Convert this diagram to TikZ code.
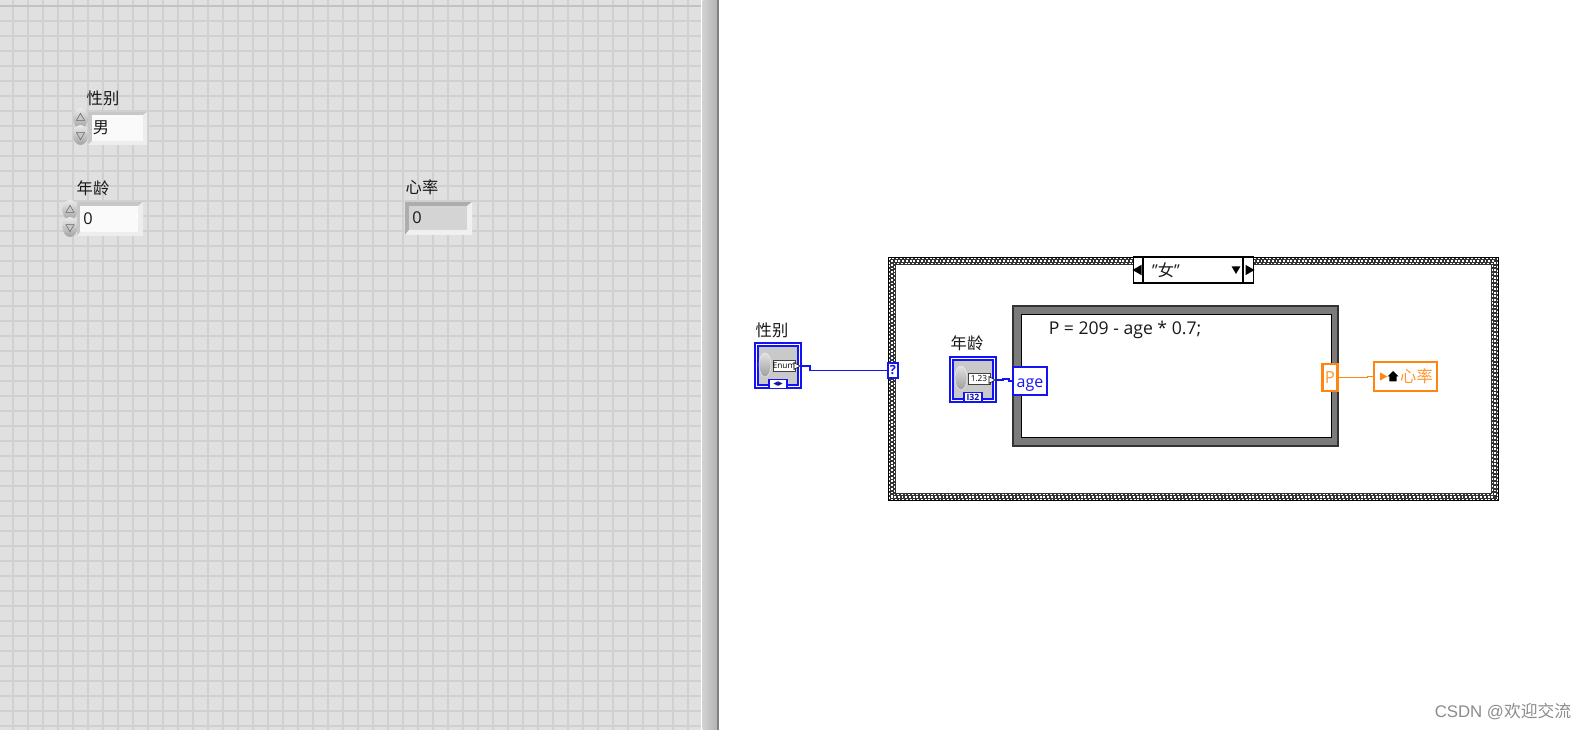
\documentclass[tikz,border=0pt]{standalone}
\usepackage{fontspec}
\usepackage{tikz}
\usetikzlibrary{arrows.meta, positioning, shapes.geometric}
\setmainfont{Open Sans}
\newfontfamily\cjk{Noto Sans CJK SC}
\newfontfamily\wmfont{Liberation Sans}
\newfontfamily\symfont{DejaVu Sans}
\definecolor{panelgray}{HTML}{E0E0E0}
\definecolor{gridgray}{HTML}{D0D0D0}
\definecolor{termblue}{HTML}{1414F0}
\definecolor{termgray}{HTML}{C9C9C9}
\definecolor{wireorange}{HTML}{FF8410}
\definecolor{framegray}{HTML}{7B7B7B}
\tikzset{
	px/.style 2 args={minimum width=#1*0.75pt, minimum height=#2*0.75pt},
	plain/.style={inner sep=0pt, outer sep=0pt},
	labeltext/.style={plain, font=\cjk\fontsize{12.2}{14}\selectfont, text=black!90},
	bevelbox/.style={plain, fill=black!22},
	valuebox/.style={plain, fill=white!98!black},
	spinbtn/.style={plain, ellipse, top color=black!8, bottom color=black!36, px={15}{20}},
	spintri/.style={plain, regular polygon, regular polygon sides=3, draw=black!60, fill=black!22, line width=0.4pt, minimum size=7pt},
	termouter/.style={plain, draw=termblue, line width=1.9pt, fill=white, px={46}{45}},
	terminner/.style={plain, draw=termblue, line width=0.8pt, fill=termgray, px={40}{39}},
	termspin/.style={plain, ellipse, top color=black!12, bottom color=black!38, draw=black!8, line width=0.4pt, px={12}{24}},
	termvalue/.style={plain, fill=white, draw=black!75, line width=0.4pt, font=\fontsize{6.2}{7}\selectfont},
	termtag/.style={plain, fill=white, draw=termblue, line width=0.8pt, text=termblue!70!black, font=\bfseries\fontsize{6.5}{7}\selectfont, px={18}{9}},
	outtri/.style={plain, regular polygon, regular polygon sides=3, shape border rotate=-90, fill=white, draw=black, line width=0.4pt, minimum size=6pt},
	wire/.style={draw=termblue, line width=0.8pt},
	orangewire/.style={draw=wireorange, line width=0.9pt},
	selarrow/.style={plain, regular polygon, regular polygon sides=3, fill=black, minimum size=9pt},
}

\begin{document}
\begin{tikzpicture}[x=0.75pt, y=-0.75pt]
	\useasboundingbox (0,0) rectangle (1586,730);
	\fill[white] (0,0) rectangle (1586,730);
	\fill[panelgray] (0,0) rectangle (701,730);
	\begin{scope}
		\clip (0,0) rectangle (701,730);
		\foreach \i in {0,...,45}
			\draw[gridgray, line width=1.3pt] ({12.7+15*\i},0) -- ({12.7+15*\i},730);
		\foreach \i in {0,...,48}
			\draw[gridgray, line width=1.3pt] (0,{5.7+15*\i}) -- (701,{5.7+15*\i});
		\draw[black!24, line width=1.3pt] (0,5.7) -- (701,5.7);
	\end{scope}
	\shade[left color=black!18, right color=black!30] (702.5,0) rectangle (717,730);
	\fill[black!50] (717,0) rectangle (718.5,730);

	% front panel
	\node[labeltext] (genderlabel) at (103,98) {性别};
	\node[bevelbox, px={59}{33}] (genderbevel) at (117.5,128.5) {};
	\node[valuebox, px={51}{26}] (gendervalue) at (117.5,128) {};
	\fill[black!7] (genderbevel.north east) -- (genderbevel.south east) -- (genderbevel.south west) -- (gendervalue.south west) -- (gendervalue.south east) -- (gendervalue.north east) -- cycle;
	\node[plain, font=\cjk\fontsize{12.2}{14}\selectfont, text=black!90] (gendertext) at (101,128) {男};
	\node[spinbtn] (genderup) at (80.5,118) {};
	\node[spinbtn] (genderdown) at (80.5,135) {};
	\node[spintri] at (genderup) {};
	\node[spintri, shape border rotate=180] at (genderdown) {};

	\node[labeltext] (agelabel) at (93,188) {年龄};
	\node[bevelbox, px={66}{34}] (agebevel) at (110,219) {};
	\node[valuebox, px={58}{26}] (agevalue) at (109,219) {};
	\fill[black!7] (agebevel.north east) -- (agebevel.south east) -- (agebevel.south west) -- (agevalue.south west) -- (agevalue.south east) -- (agevalue.north east) -- cycle;
	\node[plain, font=\fontsize{12.2}{14}\selectfont, text=black!90] (agetext) at (88,219) {0};
	\node[spinbtn] (ageup) at (70,210) {};
	\node[spinbtn] (agedown) at (70,227) {};
	\node[spintri] at (ageup) {};
	\node[spintri, shape border rotate=180] at (agedown) {};

	\node[labeltext] (heartlabel) at (422,187) {心率};
	\node[bevelbox, fill=black!32, px={67}{33}] (heartbevel) at (438.5,218.5) {};
	\node[plain, fill=black!17, px={58}{24}] (heartvalue) at (438,218) {};
	\fill[black!6] (heartbevel.north east) -- (heartbevel.south east) -- (heartbevel.south west) -- (heartvalue.south west) -- (heartvalue.south east) -- (heartvalue.north east) -- cycle;
	\node[plain, font=\fontsize{12.2}{14}\selectfont, text=black!90] (hearttext) at (417,218) {0};

	% case structure
	\node[plain, draw=black!80, line width=5.6pt, fill=white, px={603}{236}] (casebox) at (1193.5,379) {};
	\foreach \off/\ph in {-2.3/0pt, 0/1.4pt, 2.3/0pt}
		\draw[white, line width=1.1pt, dash pattern=on 1.4pt off 1.4pt, dash phase=\ph]
			([shift={(\off,\off)}]casebox.south east) rectangle ([shift={(-\off,-\off)}]casebox.north west);
	\draw[black, line width=0.7pt] ([shift={(3.4,3.4)}]casebox.south east) rectangle ([shift={(-3.4,-3.4)}]casebox.north west);

	\node[plain, draw=black, line width=0.9pt, fill=white, px={120}{26}] (selectorbox) at (1193.5,270) {};
	\draw[black, line width=0.9pt] (1143,257) -- (1143,283) (1243,257) -- (1243,283);
	\node[selarrow, shape border rotate=90] (selleft) at (1138.5,270) {};
	\node[selarrow, shape border rotate=-90] (selright) at (1248.5,270) {};
	\node[selarrow, shape border rotate=180, minimum size=7.5pt] (seldown) at (1236,269) {};
	\node[plain, font=\fontsize{12.2}{14}\selectfont, text=black!90] (seltext) at (1166,270) {"{\cjk 女}"};

	\node[plain, draw=termblue, line width=0.8pt, fill=white, font=\bfseries\fontsize{9.5}{10}\selectfont, text=termblue, px={10}{15}] (selterm) at (893,370.5) {?};

	% formula node
	\node[plain, draw=black!80, line width=0.8pt, fill=framegray, px={325}{140}] (formulaframe) at (1175.5,376) {};
	\node[plain, draw=black, line width=0.6pt, fill=white, px={310}{123}] (formulabox) at (1176,375.5) {};
	\node[plain, font=\fontsize{13.2}{15}\selectfont, text=black!90] (formulatext) at (1125,329.5) {P = 209 - age * 0.7;};

	\node[plain, draw=termblue, line width=0.8pt, fill=white, text=termblue, font=\fontsize{12}{14}\selectfont, px={34}{28}] (agein) at (1030,381) {\raisebox{-4.9pt}[0pt][0pt]{age}};
	\node[plain, draw=wireorange, line width=1.7pt, fill=white, text=wireorange!85, font=\fontsize{12.5}{14}\selectfont, px={15}{27}] (pout) at (1330,377.5) {P};

	% terminals
	\node[labeltext] (gendertermlabel) at (772,330) {性别};
	\node[termouter] (genderterm) at (778,365.5) {};
	\node[terminner] at (genderterm) {};
	\node[termspin] at (765,365) {};
	\node[termvalue, px={22}{11}] (genderenum) at (784,365.5) {Enum};
	\node[outtri] (genderout) at (796,366) {};
	\node[termtag, font=\symfont\fontsize{7}{7}\selectfont] (gendertag) at (778,384) {◂▸};

	\node[labeltext] (agetermlabel) at (967,343) {年龄};
	\node[termouter] (ageterm) at (973,379.5) {};
	\node[terminner] at (ageterm) {};
	\node[termspin] at (961,378) {};
	\node[termvalue, px={22}{11}] (agenum) at (979,378.5) {1.23};
	\node[outtri] (ageout) at (991,380) {};
	\node[termtag] (agetag) at (973,397) {I32};

	% local variable
	\node[plain, draw=wireorange, line width=1.1pt, fill=white, px={63}{29}] (localvar) at (1405.5,376.5) {};
	\node[plain, regular polygon, regular polygon sides=3, shape border rotate=-90, fill=wireorange, minimum size=7pt] (localtri) at (1382.5,376.5) {};
	\coordinate (househome) at (1393,376.5);
	\fill[black] (househome) ++(-5.5,0) -- ++(5.5,-5.5) -- ++(5.5,5.5) -- ++(-1.8,0) -- ++(0,5) -- ++(-7.4,0) -- ++(0,-5) -- cycle;
	\node[plain, font=\cjk\fontsize{12.2}{14}\selectfont, text=wireorange!85] (localtext) at (1416.5,376.5) {心率};

	% wires
	\draw[wire] (genderout.east) -- ++(10,0) |- (selterm.west);
	\draw[wire] (ageout.east) -- ++(8,0) -- ++(0,-1) -- ++(6,0) |- (agein.west);
	\draw[orangewire] (pout.east) -- ++(30,0) |- (localvar.west);

	\node[plain, font=\wmfont\fontsize{12.6}{14}\selectfont, text=black!45] (watermark) at (1503,712) {CSDN @{\cjk 欢迎交流}};
\end{tikzpicture}
\end{document}
